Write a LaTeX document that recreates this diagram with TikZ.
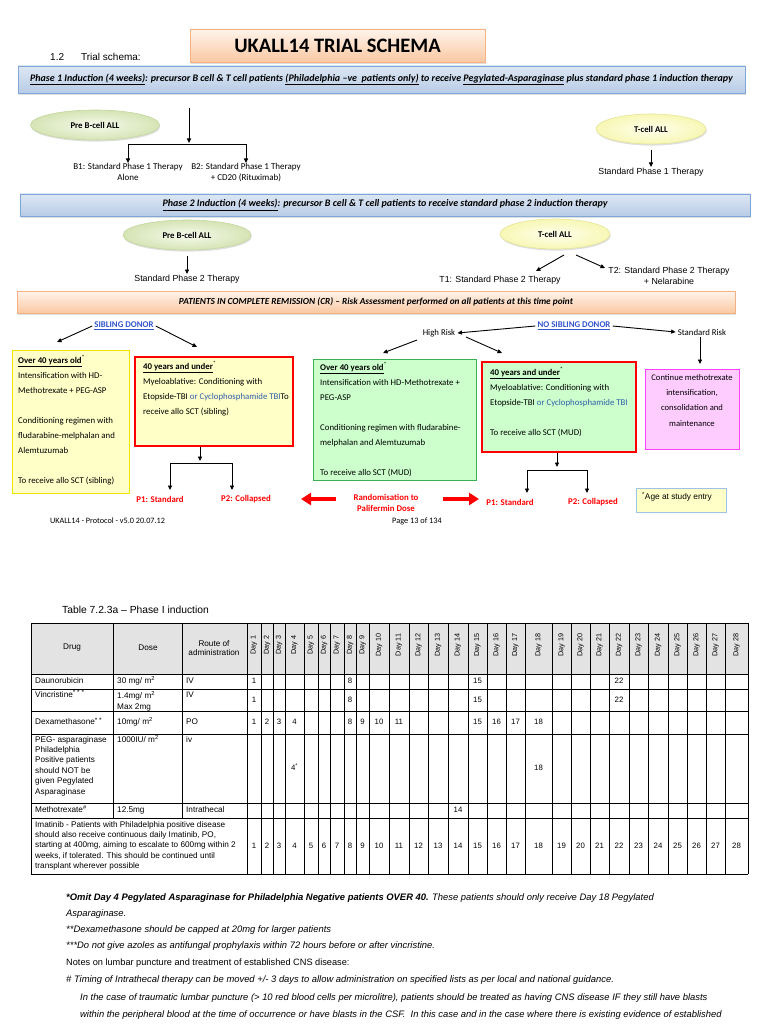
\documentclass[tikz,border=0pt]{standalone}
\usepackage{fontspec}
\setmainfont{Carlito}
\newfontfamily\arialf{Liberation Sans}
\usetikzlibrary{arrows.meta,shadows,shapes.geometric,calc}
\definecolor{sibblue}{HTML}{3355CC}
\definecolor{cyblue}{HTML}{2E5FAA}
\definecolor{pred}{HTML}{FF0000}
\definecolor{bluetop}{HTML}{DDE7F3}
\definecolor{bluebot}{HTML}{B8CCE6}
\definecolor{blueline}{HTML}{7FA6D8}
\definecolor{ortop}{HTML}{FFF4EC}
\definecolor{orbot}{HTML}{FAC8A2}
\definecolor{orline}{HTML}{F4B183}
\definecolor{ylfill}{HTML}{FFFFC8}
\definecolor{ylline}{HTML}{F2E600}
\definecolor{grfill}{HTML}{CCFFCC}
\definecolor{grline}{HTML}{3CB054}
\definecolor{pkfill}{HTML}{FFCCFF}
\definecolor{pkline}{HTML}{FF40FF}
\definecolor{agline}{HTML}{9DC3E6}
\definecolor{elgin}{HTML}{F6FAEC}
\definecolor{elgout}{HTML}{D5E4B5}
\definecolor{elgline}{HTML}{C4D79E}
\definecolor{elyin}{HTML}{FFFFEE}
\definecolor{elyout}{HTML}{F7F7B5}
\definecolor{elyline}{HTML}{E5E59A}
\definecolor{hdrgray}{HTML}{E3E3E3}
\newcommand{\fs}[2]{\fontsize{#1}{#2}\selectfont}
\newcommand{\stars}[1]{\raisebox{2.2pt}{\fs{6.5}{7}#1}}
\begin{document}
\begin{tikzpicture}[x=1pt,y=-1pt,
  arr/.style={-{Triangle[length=4.5pt,width=4pt]},line width=0.9pt},
  brk/.style={line width=0.9pt},
  redarr/.style={-{Triangle[length=10pt,width=12pt]},line width=4.5pt,draw=pred},
  bx/.style={anchor=north west,inner sep=0pt,outer sep=0pt},
  shad/.style={drop shadow={opacity=0.25,shadow xshift=0.8pt,shadow yshift=-1.6pt}},
  bandblue/.style={bx,draw=blueline,line width=0.8pt,top color=bluetop,bottom color=bluebot,shad},
  bandorange/.style={bx,draw=orline,line width=0.8pt,top color=ortop,bottom color=orbot,shad},
  ellg/.style={ellipse,minimum width=129pt,minimum height=30pt,inner color=elgin,outer color=elgout,draw=elgline,line width=0.6pt,font=\bfseries\fs{8.8}{10},shad},
  elly/.style={ellipse,minimum width=110pt,minimum height=30pt,inner color=elyin,outer color=elyout,draw=elyline,line width=0.6pt,font=\bfseries\fs{8.8}{10},shad},
  cal/.style={font=\fs{9}{11},inner sep=0.5pt,align=center},
  ari/.style={font=\arialf\fs{8.8}{11},inner sep=0.5pt,align=center},
  boxtxt/.style={anchor=base west,inner sep=0pt,align=left,font=\fs{8.8}{15}},
  redlbl/.style={font=\bfseries\fs{8.8}{11},text=pred,inner sep=0.5pt,align=center},
  tline/.style={line width=0.8pt},
  tl/.style={anchor=west,inner sep=0pt,font=\arialf\fs{8.2}{10.4},text height=5.8pt,text depth=1.6pt},
  tlm/.style={anchor=north west,inner sep=0pt,align=left,font=\arialf\fs{8.2}{10.4}},
  tnum/.style={inner sep=0pt,font=\arialf\fs{7.8}{8},text height=5.6pt,text depth=1pt},
  dayhdr/.style={rotate=90,inner sep=0pt,font=\arialf\fs{7.2}{8}},
  fn/.style={anchor=base west,inner sep=0pt,font=\arialf\itshape\fs{9.4}{10}}
]
\useasboundingbox (0,0) rectangle (768,1024);
\fill[white] (0,0) rectangle (768,1024);

% ---------- title ----------
\node[bandorange,minimum width=295pt,minimum height=33pt,font=\bfseries\fs{20.5}{22}] (title) at (190,29) {UKALL14 TRIAL SCHEMA};
\node[anchor=base west,inner sep=0pt,font=\arialf\fs{10}{11}] (sec) at (50,61) {1.2\hspace{17pt}Trial schema:};

% ---------- phase 1 ----------
\node[bandblue,minimum width=727pt,minimum height=27pt,font=\bfseries\itshape\fs{10}{12}] (ph1) at (18,66)
 {\underline{Phase 1 Induction (4 weeks)}: precursor B cell \& T cell patients \underline{(Philadelphia –ve\ \ patients only)} to receive \underline{Pegylated-Asparaginase} plus standard phase 1 induction therapy};

\node[ellg] (preb1) at (95,125) {Pre B-cell ALL};
\coordinate (v1a) at (189,108);
\coordinate (v1b) at (189,143);
\draw[arr] (v1a) -- (v1b);
\coordinate (bl) at (128,144);
\coordinate (br) at (246,144);
\draw[brk] (bl) -- (br);
\node[cal,anchor=north] (b1) at (128,163) {B1: Standard Phase 1 Therapy\\Alone};
\node[cal,anchor=north] (b2) at (246,163) {B2: Standard Phase 1 Therapy\\+ CD20 (Rituximab)};
\draw[arr] (bl) -- (b1.north);
\draw[arr] (br) -- (b2.north);

\node[elly] (tc1) at (651,129) {T-cell ALL};
\node[ari,anchor=north] (s1) at (651,167) {Standard Phase 1 Therapy};
\draw[arr] ([yshift=-6pt]tc1.south) -- (s1.north);

% ---------- phase 2 ----------
\node[bandblue,minimum width=730pt,minimum height=22pt,font=\bfseries\itshape\fs{10}{11}] (ph2) at (20,194)
 {\underline{Phase 2 Induction (4 weeks)}: precursor B cell \& T cell patients to receive standard phase 2 induction therapy};

\node[ellg,minimum width=128pt] (preb2) at (187,235) {Pre B-cell ALL};
\node[ari,anchor=north] (s2) at (187,274) {Standard Phase 2 Therapy};
\draw[arr] ([yshift=-6pt]preb2.south) -- (s2.north);

\node[elly] (tc2) at (555,234) {T-cell ALL};
\node[ari] (t1) at (500,280) {T1: Standard Phase 2 Therapy};
\node[ari] (t2) at (669,276) {T2: Standard Phase 2 Therapy\\+ Nelarabine};
\coordinate (t2a1) at (564,255);
\coordinate (t2e1) at (536,271);
\coordinate (t2a2) at (576,255);
\coordinate (t2e2) at (605,268);
\draw[arr] (t2a1) -- (t2e1);
\draw[arr] (t2a2) -- (t2e2);

% ---------- CR band ----------
\node[bandorange,minimum width=718pt,minimum height=22pt,font=\bfseries\itshape\fs{9.3}{10}] (cr) at (17,291)
 {PATIENTS IN COMPLETE REMISSION (CR) – Risk Assessment performed on all patients at this time point};

% ---------- sibling donor ----------
\node[font=\bfseries\fs{8.8}{10},text=sibblue,inner sep=2pt] (sib) at (124,326) {\underline{SIBLING DONOR}};
\coordinate (sbl) at (57,342);
\coordinate (sbr) at (197,347);
\draw[arr] (sib.west) -- (sbl);
\draw[arr] (sib.east) -- (sbr);

\node[bx,fill=ylfill,draw=ylline,line width=1pt,minimum width=117pt,minimum height=143pt] (ylb) at (12,350) {};
\node[boxtxt] (ylt) at (18,483) {\textbf{\underline{Over 40 years old}}\textsuperscript{*}\\Intensification with HD-\\Methotrexate + PEG-ASP\\[15pt]Conditioning regimen with\\fludarabine-melphalan and\\Alemtuzumab\\[15pt]To receive allo SCT (sibling)};

\node[bx,fill=ylfill,draw=pred,line width=2pt,minimum width=158pt,minimum height=89pt] (rb1) at (135,357) {};
\node[boxtxt] (rb1t) at (143,414) {\textbf{\underline{40 years and under}}\textsuperscript{*}\\Myeloablative: Conditioning with\\Etopside-TBI {\color{cyblue}or Cyclophosphamide TBI}To\\receive allo SCT (sibling)};

\coordinate (a1s) at (200,447);
\coordinate (a1e) at (200,461);
\draw[arr] (a1s) -- (a1e);
\coordinate (k1l) at (170,463);
\coordinate (k1r) at (232,463);
\coordinate (k1le) at (170,490);
\coordinate (k1re) at (232,490);
\draw[brk] (k1l) -- (k1r);
\draw[arr] (k1l) -- (k1le);
\draw[arr] (k1r) -- (k1re);
\node[redlbl] (p1a) at (160,499) {P1: Standard};
\node[redlbl] (p2a) at (246,499) {P2: Collapsed};

% ---------- no sibling donor ----------
\node[font=\bfseries\fs{8.8}{10},text=sibblue,inner sep=2pt] (nsd) at (574,326) {\underline{NO SIBLING DONOR}};
\node[font=\fs{8.8}{10},inner sep=2pt] (hr) at (439,333) {High Risk};
\node[font=\fs{8.8}{10},inner sep=2pt] (sr) at (702,332) {Standard Risk};
\draw[arr] (nsd.west) -- (hr.east);
\draw[arr] (nsd.east) -- (sr.west);
\coordinate (hra1) at (417,340);
\coordinate (hrb1) at (383,353);
\coordinate (hra2) at (466,337);
\coordinate (hrb2) at (502,353);
\draw[arr] (hra1) -- (hrb1);
\draw[arr] (hra2) -- (hrb2);
\coordinate (sre) at (700,364);
\draw[arr] (sr.south -| sre) -- (sre);

\node[bx,fill=grfill,draw=grline,line width=1pt,minimum width=163pt,minimum height=121pt] (gb) at (313,359) {};
\node[boxtxt] (gbt) at (320,475) {\textbf{\underline{Over 40 years old}}\textsuperscript{*}\\Intensification with HD-Methotrexate +\\PEG-ASP\\[15pt]Conditioning regimen with fludarabine-\\melphalan and Alemtuzumab\\[15pt]To receive allo SCT (MUD)};

\node[bx,fill=grfill,draw=pred,line width=2pt,minimum width=154pt,minimum height=90pt] (rb2) at (482,362) {};
\node[boxtxt] (rb2t) at (490,435) {\textbf{\underline{40 years and under}}\textsuperscript{*}\\Myeloablative: Conditioning with\\Etopside-TBI {\color{cyblue}or Cyclophosphamide TBI}\\[15pt]To receive allo SCT (MUD)};

\coordinate (a2s) at (557,453);
\coordinate (a2e) at (557,467);
\draw[arr] (a2s) -- (a2e);
\coordinate (k2l) at (527,470);
\coordinate (k2r) at (587,470);
\coordinate (k2le) at (527,493);
\coordinate (k2re) at (587,493);
\draw[brk] (k2l) -- (k2r);
\draw[arr] (k2l) -- (k2le);
\draw[arr] (k2r) -- (k2re);
\node[redlbl] (p1b) at (510,502) {P1: Standard};
\node[redlbl] (p2b) at (593,502) {P2: Collapsed};

\node[bx,fill=pkfill,draw=pkline,line width=1pt,minimum width=94pt,minimum height=80pt] (pk) at (645,369) {};
\node[anchor=base,inner sep=0pt,align=center,font=\fs{8.6}{15.3}] (pkt) at (692,426) {Continue methotrexate\\intensification,\\consolidation and\\maintenance};

% randomisation
\node[redlbl] (rand) at (386,503) {Randomisation to\\Palifermin Dose};
\coordinate (rl1) at (336,499);
\coordinate (rl2) at (301,499);
\coordinate (rr1) at (443,499);
\coordinate (rr2) at (479,499);
\draw[redarr] (rl1) -- (rl2);
\draw[redarr] (rr1) -- (rr2);

\node[bx,fill=ylfill,draw=agline,line width=1pt,minimum width=90pt,minimum height=24pt] (age) at (636,488) {};
\node[anchor=west,inner sep=0pt,font=\arialf\fs{8.3}{9}] (aget) at (642,497) {\textsuperscript{*}Age at study entry};

% footer
\node[anchor=base west,inner sep=0pt,font=\fs{8.2}{9}] (foot1) at (50,523) {UKALL14 - Protocol - v5.0 20.07.12};
\node[anchor=base,inner sep=0pt,font=\fs{8.3}{9}] (foot2) at (417,523) {Page 13 of 134};

% ---------- table ----------
\node[anchor=base west,inner sep=0pt,font=\arialf\fs{10.3}{11}] (tabt) at (62,613) {Table 7.2.3a – Phase I induction};
\fill[hdrgray] (31,623) rectangle (748,674);
\foreach \yy in {623,674,689,711,734,803,818,874} \draw[tline] (31,\yy) -- (748,\yy);
\draw[tline] (31,623) -- (31,874);
\draw[tline] (748,623) -- (748,874);
\foreach \xx in {113,182} \draw[tline] (\xx,623) -- (\xx,818);
\foreach \a/\b [count=\i] in {247/261,261/273,273/285,285/304,304/318,318/330,330/344,344/356,356/369,369/389,389/409,409/428,428/448,448/468,468/487,487/506,506/525,525/552,552/571,571/590,590/609,609/629,629/648,648/668,668/687,687/706,706/725,725/748} {
  \coordinate (c\i) at ({(\a+\b)/2},0);
  \node[dayhdr] (dh\i) at ({(\a+\b)/2},645) {Day \i};
  \node[tnum] (im\i) at ({(\a+\b)/2},846.5) {\i};
  \draw[tline] (\a,623) -- (\a,874);
}
\node[inner sep=0pt,font=\arialf\fs{8.2}{9}] (hdrug) at (72,648) {Drug};
\node[inner sep=0pt,font=\arialf\fs{8.2}{9}] (hdose) at (148,648) {Dose};
\node[inner sep=0pt,align=center,font=\arialf\fs{8.2}{9.5}] (hroute) at (214,648) {Route of\\administration};

\node[tl] (dr1) at (35,681.5) {Daunorubicin};
\node[tl] (dr2) at (35,695) {Vincristine\stars{* * *}};
\node[tl] (dr3) at (35,722.5) {Dexamethasone\stars{* *}};
\node[tlm] (dr4) at (35,736) {PEG- asparaginase\\Philadelphia\\Positive patients\\should NOT be\\given Pegylated\\Asparaginase};
\node[tl] (dr5) at (35,810.5) {Methotrexate\textsuperscript{\#}};
\node[tlm] (dr6) at (35,821) {Imatinib - Patients with Philadelphia positive disease\\should also receive continuous daily Imatinib, PO,\\starting at 400mg, aiming to escalate to 600mg within 2\\weeks, if tolerated. This should be continued until\\transplant wherever possible};

\node[tl] (do1) at (117,681.5) {30 mg/ m\textsuperscript{2}};
\node[tlm,font=\arialf\fs{8.2}{11}] (do2) at (117,691) {1.4mg/ m\textsuperscript{2}\\Max 2mg};
\node[tl] (do3) at (117,722.5) {10mg/ m\textsuperscript{2}};
\node[tl] (do4) at (117,740) {1000IU/ m\textsuperscript{2}};
\node[tl] (do5) at (117,810.5) {12.5mg};

\node[tl] (ro1) at (186,681.5) {IV};
\node[tl] (ro2) at (186,695) {IV};
\node[tl] (ro3) at (186,722.5) {PO};
\node[tl] (ro4) at (186,740) {iv};
\node[tl] (ro5) at (186,810.5) {Intrathecal};

\foreach \d in {1,8,15,22} {
  \node[tnum] (da\d) at ($(c\d)+(0,681.5)$) {\d};
  \node[tnum] (vi\d) at ($(c\d)+(0,700)$) {\d};
}
\foreach \d in {1,2,3,4,8,9,10,11,15,16,17,18}
  \node[tnum] (dx\d) at ($(c\d)+(0,722.5)$) {\d};
\node[tnum] (pg4) at ($(c4)+(0,768)$) {4\textsuperscript{*}};
\node[tnum] (pg18) at ($(c18)+(0,768)$) {18};
\node[tnum] (mt14) at ($(c14)+(0,810.5)$) {14};

% ---------- footnotes ----------
\node[fn] (fn1) at (66,900) {\textbf{*Omit Day 4 Pegylated Asparaginase for Philadelphia Negative patients OVER 40.} These patients should only receive Day 18 Pegylated};
\node[fn] (fn2) at (66,916) {Asparaginase.};
\node[fn] (fn3) at (66,932) {**Dexamethasone should be capped at 20mg for larger patients};
\node[fn] (fn4) at (66,948) {***Do not give azoles as antifungal prophylaxis within 72 hours before or after vincristine.};
\node[fn,font=\arialf\fs{9.2}{10}] (fn5) at (66,965) {Notes on lumbar puncture and treatment of established CNS disease:};
\node[fn] (fn6) at (66,982) {\# Timing of Intrathecal therapy can be moved +/- 3 days to allow administration on specified lists as per local and national guidance.};
\node[fn] (fn7) at (80,1000) {In the case of traumatic lumbar puncture (> 10 red blood cells per microlitre), patients should be treated as having CNS disease IF they still have blasts};
\node[fn] (fn8) at (80,1017) {within the peripheral blood at the time of occurrence or have blasts in the CSF.\ \ In this case and in the case where there is existing evidence of established};
\end{tikzpicture}
\end{document}
